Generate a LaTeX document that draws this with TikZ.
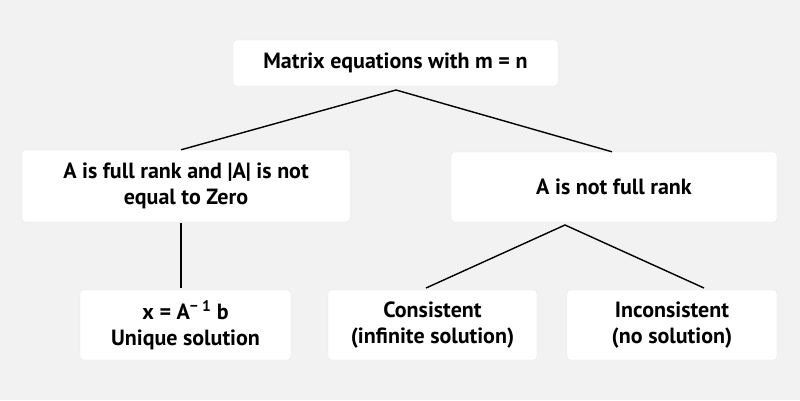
\documentclass[tikz,border=0pt]{standalone}
\usepackage{fontspec}
\setmainfont{PT Sans}
\definecolor{bg}{HTML}{F2F2F2}
\definecolor{bd}{HTML}{E4E4E4}
\begin{document}
\begin{tikzpicture}[x=1pt,y=-1pt,
  box/.style={draw=bd,fill=white,rounded corners=3pt,align=center,font=\fontsize{22}{26}\selectfont\bfseries,inner sep=0pt},
  ln/.style={line width=1.4pt,black}]
\fill[bg] (0,0) rectangle (800,400);
\useasboundingbox (0,0) rectangle (800,400);
\node[box,minimum width=325,minimum height=46] (top) at (395.5,63) {Matrix equations with m = n};
\node[box,minimum width=328,minimum height=72] (l) at (186,186) {A is full rank and |A| is not\\equal to Zero};
\node[box,minimum width=326,minimum height=70] (r) at (614,187) {A is not full rank};
\node[box,minimum width=211,minimum height=70] (b1) at (185.5,325) {x = A\textsuperscript{− 1} b\\Unique solution};
\node[box,minimum width=209,minimum height=70] (b2) at (432.5,325) {Consistent\\(infinite solution)};
\node[box,minimum width=210,minimum height=70] (b3) at (672,325) {Inconsistent\\(no solution)};
\coordinate (a1) at (396,90);
\coordinate (a2) at (565,225);
\draw[ln] (l.north -| 181,0) -- (a1) -- (r.north -| 612,0);
\draw[ln] (l.south -| 181,0) ++(0,1) -- (181,288);
\draw[ln] (426,288) -- (a2) -- (704,288);
\end{tikzpicture}
\end{document}
